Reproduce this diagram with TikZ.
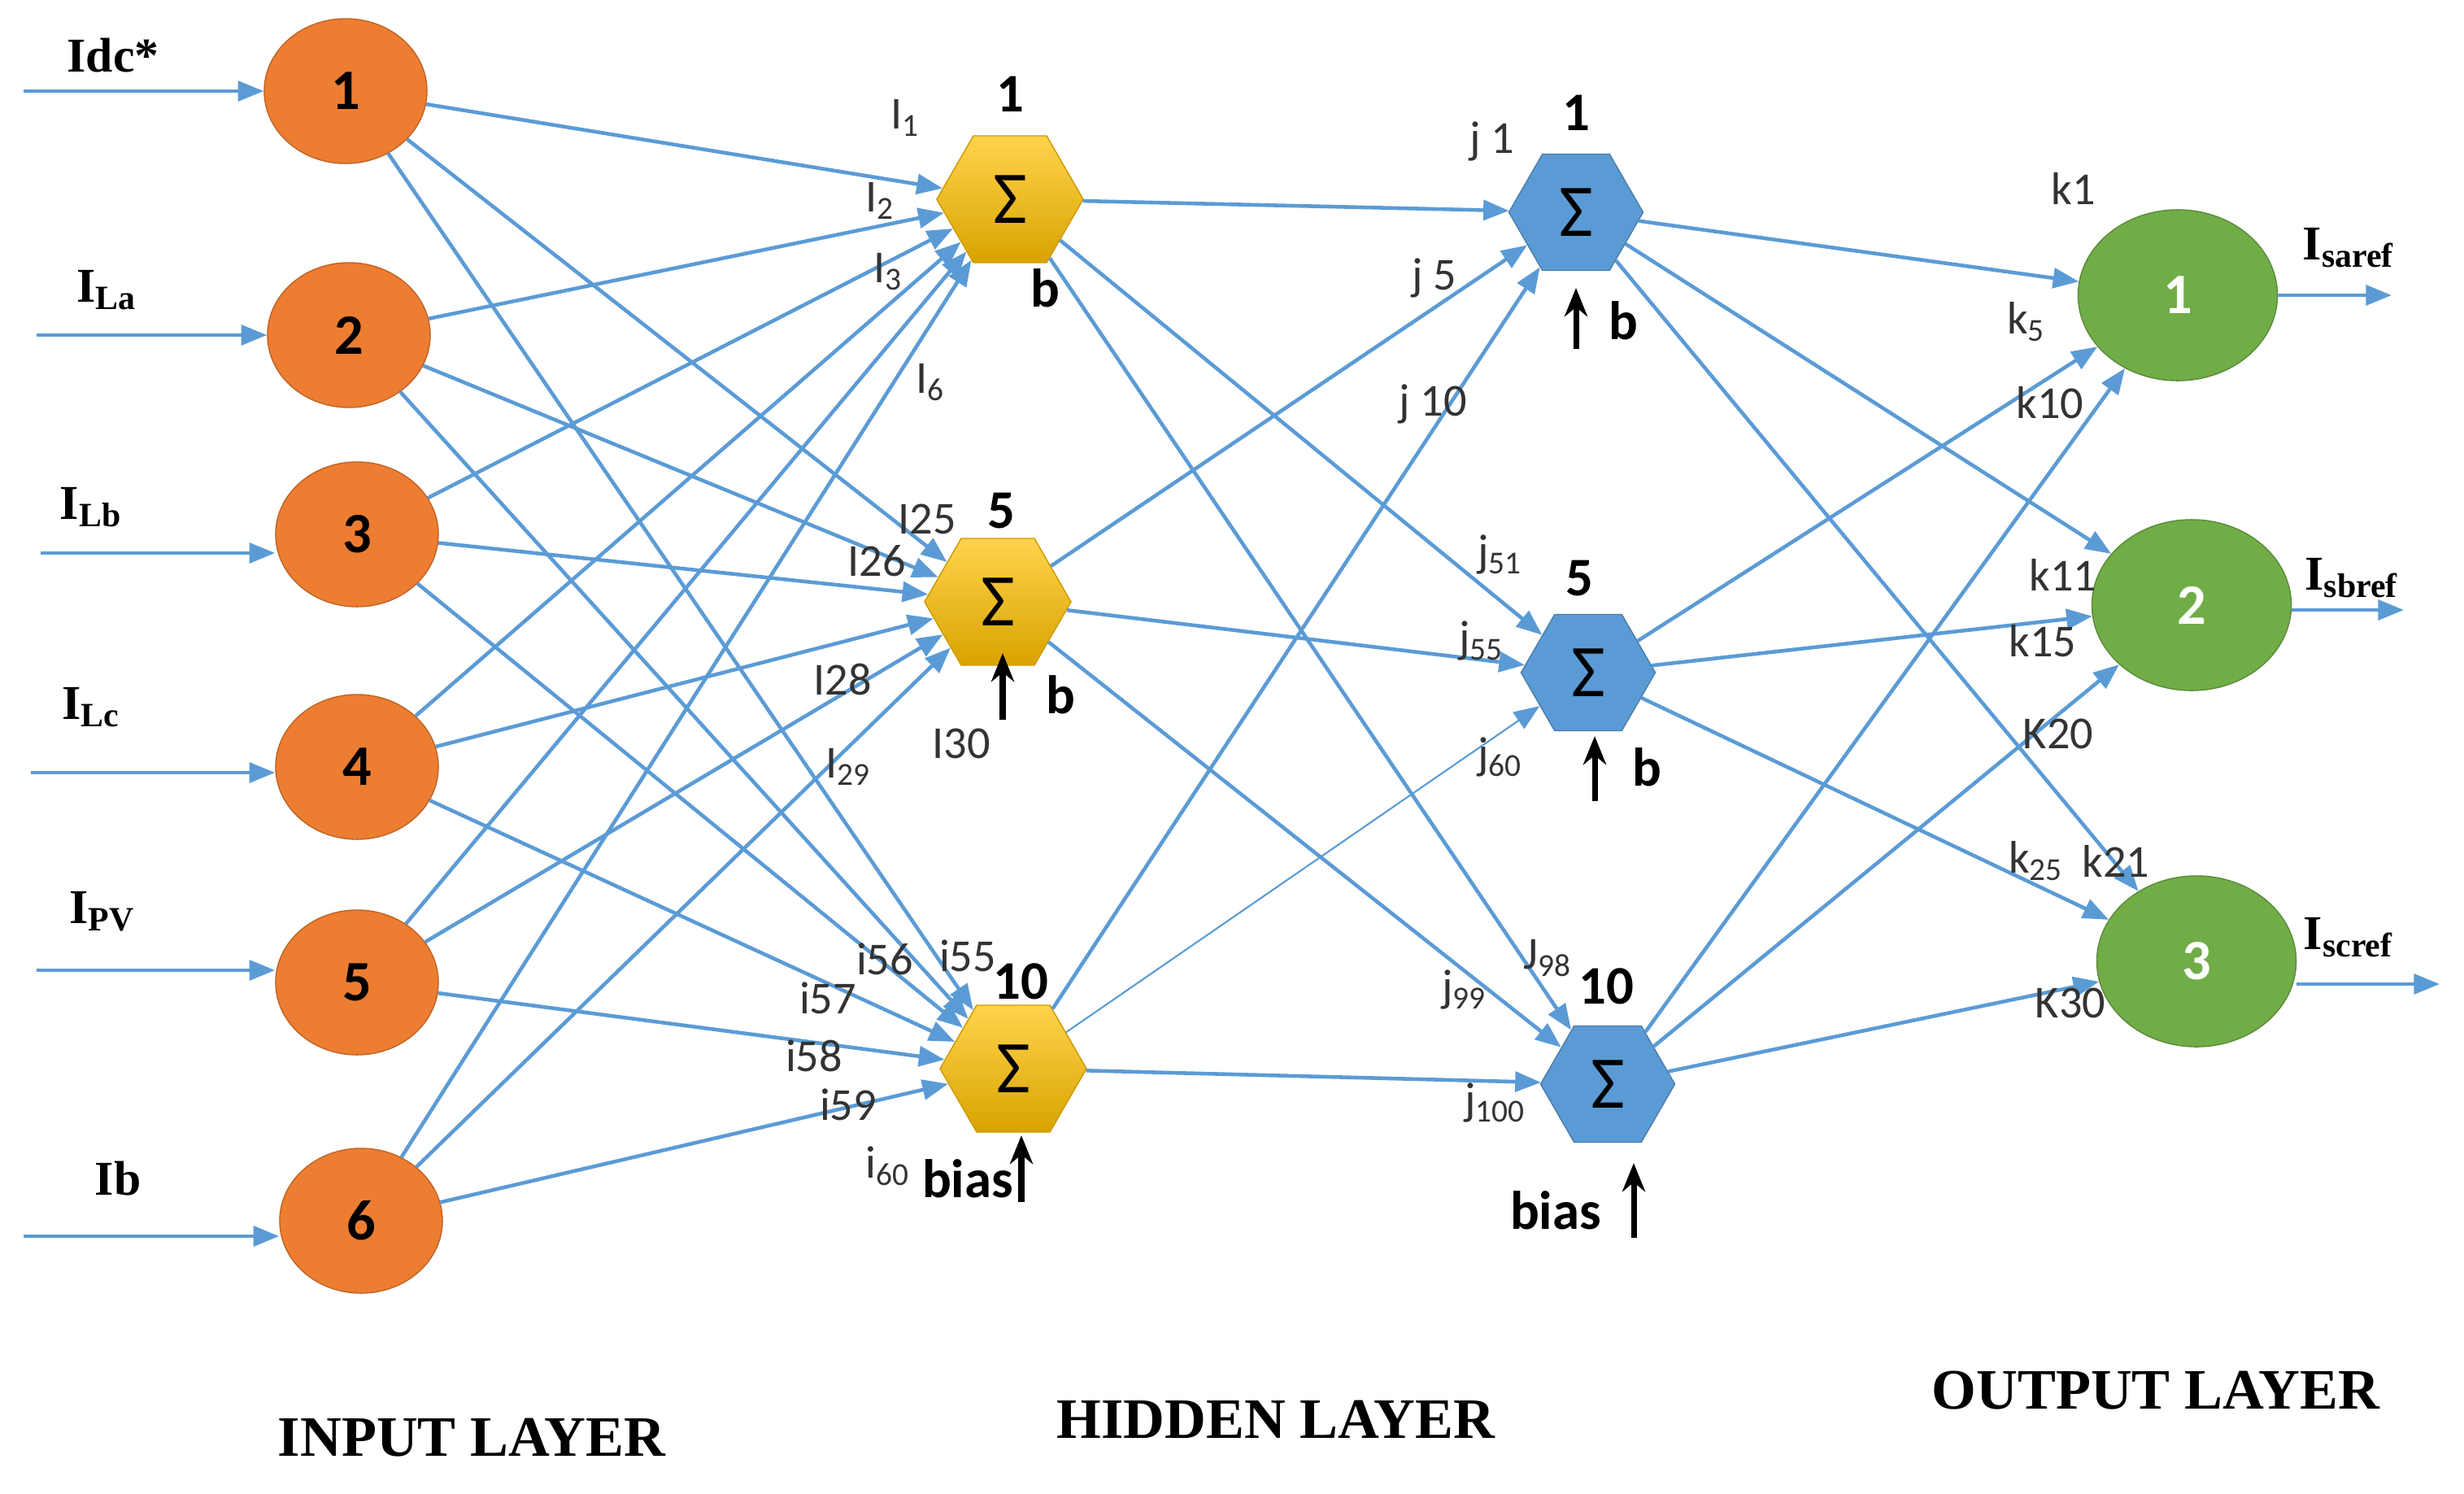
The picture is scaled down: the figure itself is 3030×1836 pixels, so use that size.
\documentclass[tikz,border=0pt]{standalone}
\usepackage{fontspec}
\setmainfont{Carlito}
\newfontfamily\tnr{Liberation Serif}
\usetikzlibrary{shapes.geometric,arrows.meta}
\definecolor{eblue}{RGB}{91,155,213}
\definecolor{orng}{RGB}{237,125,49}
\definecolor{yel}{RGB}{255,192,0}
\definecolor{hblue}{RGB}{91,155,213}
\definecolor{grn}{RGB}{112,173,71}
\begin{document}
\begin{tikzpicture}[x=0.01cm,y=-0.01cm,
  edge/.style={draw=eblue,line width=1.3pt,-{Triangle[length=9pt,width=7pt]}},
  inp/.style={ellipse,fill=orng,draw=orng!80!black,minimum width=2cm,minimum height=1.78cm,font=\fontsize{20}{22}\selectfont\bfseries},
  hy/.style={regular polygon,regular polygon sides=6,minimum size=1.8cm,inner sep=0pt,top color=yel!70!white,bottom color=yel!85!black,draw=yel!80!black,font=\fontsize{26}{28}\selectfont},
  hb/.style={regular polygon,regular polygon sides=6,minimum size=1.65cm,inner sep=0pt,fill=hblue,draw=hblue!80!black,font=\fontsize{26}{28}\selectfont},
  outn/.style={ellipse,fill=grn,draw=grn!80!black,minimum width=2.45cm,minimum height=2.1cm,text=white,font=\fontsize{20}{22}\selectfont\bfseries},
  lab/.style={font=\fontsize{16}{18}\selectfont,text=black!80},
  num/.style={font=\fontsize{19}{21}\selectfont\bfseries},
  il/.style={font=\tnr\fontsize{17}{19}\selectfont\bfseries},
  title/.style={font=\tnr\fontsize{20}{22}\selectfont\bfseries},
  barr/.style={line width=2pt,-{Stealth[length=10pt,width=8pt]}}]
\useasboundingbox (0,0) rectangle (3030,1836);
% input nodes
\node[inp] (i1) at (425,112) {1};
\node[inp] (i2) at (429,412) {2};
\node[inp] (i3) at (439,657) {3};
\node[inp] (i4) at (439,943) {4};
\node[inp] (i5) at (439,1208) {5};
\node[inp] (i6) at (444,1501) {6};
% hidden 1
\node[hy] (h1) at (1242,245) {Σ};
\node[hy] (h5) at (1227,740) {Σ};
\node[hy] (h10) at (1246,1314) {Σ};
% hidden 2
\node[hb] (b1) at (1938,261) {Σ};
\node[hb] (b5) at (1953,827) {Σ};
\node[hb] (b10) at (1977,1333) {Σ};
% outputs
\node[outn] (o1) at (2678,363) {1};
\node[outn] (o2) at (2695,744) {2};
\node[outn] (o3) at (2701,1182) {3};
% input arrows
\coordinate (s1) at (29,112); \coordinate (s2) at (45,412); \coordinate (s3) at (50,680);
\coordinate (s4) at (38,950); \coordinate (s5) at (45,1193); \coordinate (s6) at (29,1520);
\draw[edge] (s1) -- (i1.west|-s1);
\draw[edge] (s2) -- (i2.west);
\draw[edge] (s3) -- (i3.west|-s3);
\draw[edge] (s4) -- (i4.west|-s4);
\draw[edge] (s5) -- (i5.west|-s5);
\draw[edge] (s6) -- (i6.west|-s6);
\node[il] (l1) at (139,68) {Idc*};
\node[il] (l2) at (131,357) {I\textsubscript{La}};
\node[il] (l3) at (112,624) {I\textsubscript{Lb}};
\node[il] (l4) at (112,870) {I\textsubscript{Lc}};
\node[il] (l5) at (126,1121) {I\textsubscript{PV}};
\node[il] (l6) at (145,1449) {Ib};
% input -> hidden1
\foreach \i in {1,...,6}{\foreach \h in {h1,h5,h10}{\draw[edge] (i\i) -- (\h);}}
% hidden1 -> hidden2
\draw[edge] (h1) -- (b1); \draw[edge] (h1) -- (b5); \draw[edge] (h1) -- (b10);
\draw[edge] (h5) -- (b1); \draw[edge] (h5) -- (b5); \draw[edge] (h5) -- (b10);
\draw[edge] (h10) -- (b1); \draw[edge,line width=0.6pt] (h10) -- (b5); \draw[edge] (h10) -- (b10);
% hidden2 -> out
\foreach \b in {b1,b5,b10}{\foreach \o in {o1,o2,o3}{\draw[edge] (\b) -- (\o);}}
% output arrows
\coordinate (e1) at (2941,363); \coordinate (e2) at (2956,750); \coordinate (e3) at (3000,1210);
\draw[edge] (o1.east) -- (e1);
\draw[edge] (o2.east|-e2) -- (e2);
\draw[edge] (o3.east|-e3) -- (e3);
\node[il] (r1) at (2888,305) {I\textsubscript{saref}};
\node[il] (r2) at (2892,711) {I\textsubscript{sbref}};
\node[il] (r3) at (2888,1153) {I\textsubscript{scref}};
% numbers
\node[num] (n1) at (1242,116) {1};
\node[num] (n2) at (1231,628) {5};
\node[num] (n3) at (1255,1207) {10};
\node[num] (n4) at (1938,139) {1};
\node[num] (n5) at (1942,711) {5};
\node[num] (n6) at (1975,1213) {10};
% bias
\coordinate (bb2) at (1233,885); \coordinate (bb3) at (1256,1478);
\coordinate (bb4) at (1938,429); \coordinate (bb5) at (1961,985); \coordinate (bb6) at (2009,1522);
\draw[barr] (bb2) -- ++(0,-82);
\draw[barr] (bb3) -- ++(0,-82);
\draw[barr] (bb4) -- ++(0,-75);
\draw[barr] (bb5) -- ++(0,-80);
\draw[barr] (bb6) -- ++(0,-92);
\node[num] (t1) at (1285,354) {b};
\node[num] (t2) at (1304,854) {b};
\node[num] (t3) at (1190,1449) {bias};
\node[num] (t4) at (1996,394) {b};
\node[num] (t5) at (2025,943) {b};
\node[num] (t6) at (1913,1488) {bias};
% edge labels
\node[lab] (a1) at (1113,145) {I\textsubscript{1}};
\node[lab] (a2) at (1082,247) {I\textsubscript{2}};
\node[lab] (a3) at (1092,334) {I\textsubscript{3}};
\node[lab] (a4) at (1144,470) {I\textsubscript{6}};
\node[lab] (a5) at (1140,638) {I25};
\node[lab] (a6) at (1078,690) {I26};
\node[lab] (a7) at (1036,835) {I28};
\node[lab] (a8) at (1182,914) {I30};
\node[lab] (a9) at (1043,943) {I\textsubscript{29}};
\node[lab] (a10) at (1088,1179) {i56};
\node[lab] (a11) at (1190,1175) {i55};
\node[lab] (a12) at (1018,1227) {i57};
\node[lab] (a13) at (1001,1298) {i58};
\node[lab] (a14) at (1043,1358) {i59};
\node[lab] (a15) at (1092,1434) {i\textsubscript{60}};
\node[lab] (c1) at (1835,174) {j 1};
\node[lab] (c2) at (1764,342) {j 5};
\node[lab] (c3) at (1762,497) {j 10};
\node[lab] (c4) at (1845,682) {j\textsubscript{51}};
\node[lab] (c5) at (1822,788) {j\textsubscript{55}};
\node[lab] (c6) at (1845,931) {j\textsubscript{60}};
\node[lab] (c7) at (1903,1178) {J\textsubscript{98}};
\node[lab] (c8) at (1801,1217) {j\textsubscript{99}};
\node[lab] (c9) at (1839,1356) {j\textsubscript{100}};
\node[lab] (d1) at (2550,232) {k1};
\node[lab] (d2) at (2492,396) {k\textsubscript{5}};
\node[lab] (d3) at (2521,495) {k10};
\node[lab] (d4) at (2537,707) {k11};
\node[lab] (d5) at (2512,788) {k15};
\node[lab] (d6) at (2531,902) {K20};
\node[lab] (d7) at (2504,1059) {k\textsubscript{25}};
\node[lab] (d8) at (2602,1059) {k21};
\node[lab] (d9) at (2546,1233) {K30};
% titles
\node[title] (T1) at (580,1768) {INPUT LAYER};
\node[title] (T2) at (1569,1745) {HIDDEN LAYER};
\node[title] (T3) at (2651,1710) {OUTPUT LAYER};
\end{tikzpicture}
\end{document}
